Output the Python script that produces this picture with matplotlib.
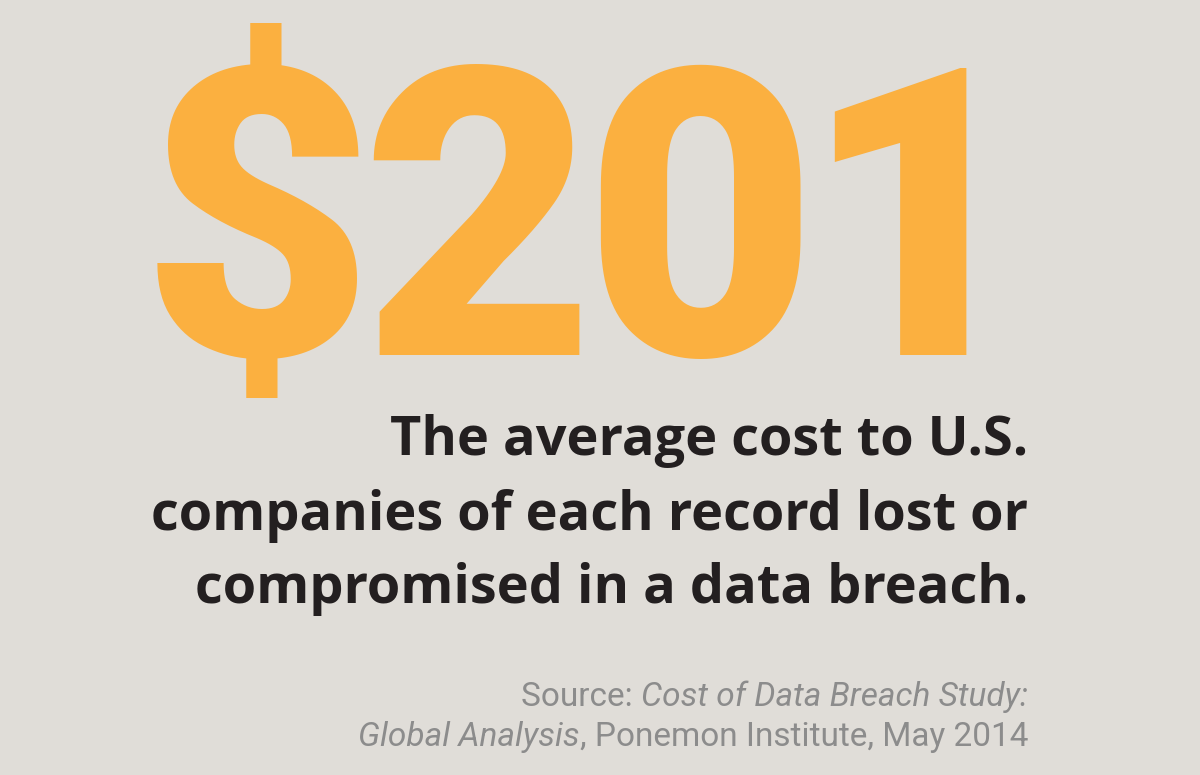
import matplotlib
matplotlib.use("Agg")
import matplotlib.pyplot as plt

headline = "$201"
caption_lines = ["The average cost to U.S.", "companies of each record lost or", "compromised in a data breach."]
source_line1 = ("Source: ", "Cost of Data Breach Study:")
source_line2 = ("Global Analysis", ", Ponemon Institute, May 2014")

fig = plt.figure(figsize=(12, 7.75), dpi=100)
fig.patch.set_facecolor("#E0DDD8")
W, H = 1200, 775
def fx(x): return x / W
def fy(y): return 1 - y / H

centers = [257, 478, 700, 918]
for ch, cx in zip(headline, centers):
    fig.text(fx(cx), fy(355), ch, ha="center", va="baseline", color="#FBB040",
             fontsize=290, fontweight="black", family=["Roboto", "DejaVu Sans"])

ys = [455, 530, 603]
for t, y in zip(caption_lines, ys):
    fig.text(fx(1028), fy(y), t, ha="right", va="baseline", color="#231F20",
             fontsize=39, fontweight="bold", family=["Open Sans", "DejaVu Sans"])

gray = "#8C8C8C"
fs = 24
r = fig.canvas.get_renderer()
def right_line(parts, y):
    x = fx(1028)
    for txt, ital in reversed(parts):
        t = fig.text(x, fy(y), txt, ha="right", va="baseline", color=gray, fontsize=fs,
                     fontstyle="italic" if ital else "normal", family=["Roboto", "DejaVu Sans"])
        bb = t.get_window_extent(renderer=r)
        x -= bb.width / W
right_line([(source_line1[0], False), (source_line1[1], True)], 706)
right_line([(source_line2[0], True), (source_line2[1], False)], 746)

fig.savefig("out.png", dpi=100, facecolor=fig.get_facecolor())
